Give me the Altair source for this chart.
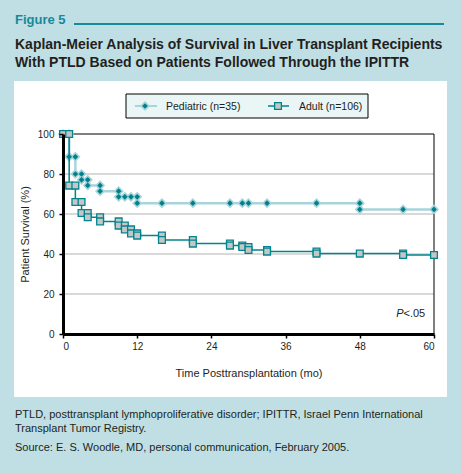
import altair as alt
import pandas as pd

# ---------------- data ----------------
months_ped = [0, 1, 1, 2, 2, 3, 3, 4, 4, 6, 6, 9, 9, 10, 11, 12, 12, 16, 21, 27, 29, 30, 33, 41, 48, 48, 55, 60]
surv_ped = [100, 100, 88.6, 88.6, 80, 80, 77.1, 77.1, 74.3, 74.3, 71.4, 71.4, 68.6, 68.6, 68.6, 68.6,
            65.4, 65.4, 65.4, 65.4, 65.4, 65.4, 65.4, 65.4, 65.4, 62.3, 62.3, 62.3]

months_adult = [0, 1, 1, 2, 2, 3, 3, 4, 4, 6, 6, 9, 9, 10, 10, 11, 11, 12, 12, 16, 16, 21, 21, 27, 27,
                29, 29, 30, 30, 33, 33, 41, 41, 48, 55, 55, 60]
surv_adult = [100, 100, 74.2, 74.2, 66, 66, 60.5, 60.5, 58.4, 58.4, 56.3, 56.3, 54.2, 54.2, 52.3, 52.3,
              50.3, 50.3, 49.2, 49.2, 47, 47, 45.2, 45.2, 44.2, 44.2, 43.5, 43.5, 42, 42, 41.2, 41.2,
              40.2, 40.2, 40.2, 39.5, 39.5]

x_ticks = [0, 12, 24, 36, 48, 60]
y_ticks = [0, 20, 40, 60, 80, 100]
grid_vals = [20, 40, 60, 80]

label_ped = "Pediatric (n=35)"
label_adult = "Adult (n=106)"
fig_label = "Figure 5"
title_lines = ["Kaplan-Meier Analysis of Survival in Liver Transplant Recipients",
               "With PTLD Based on Patients Followed Through the IPITTR"]
foot_lines = ["PTLD, posttransplant lymphoproliferative disorder; IPITTR, Israel Penn International",
              "Transplant Tumor Registry.",
              "Source: E. S. Woodle, MD, personal communication, February 2005."]

# ---------------- style ----------------
BG = "#bfdfe4"
TEAL = "#00858f"
TEAL_DARK = "#00808a"
LIGHT = "#a8d5dc"
GRAY_FILL = "#c6c6c6"
GRID = "#b3b3b3"
INK = "#231f20"
FONT = "Liberation Sans, Arial, Helvetica, sans-serif"
NARROW = "Liberation Sans Narrow, Arial Narrow, Liberation Sans, sans-serif"

W, H = 371, 200

ped = pd.DataFrame({"month": months_ped, "surv": surv_ped, "i": range(len(months_ped))})
adult = pd.DataFrame({"month": months_adult, "surv": surv_adult, "i": range(len(months_adult))})

xs = alt.Scale(domain=[0, 60], nice=False, zero=False)
ys = alt.Scale(domain=[0, 100], nice=False)

x_axis = alt.Axis(values=x_ticks, title="Time Posttransplantation (mo)", grid=False,
                  domainColor="black", domainWidth=3, tickColor="black", tickWidth=1.5, tickSize=4,
                  labelFont=NARROW, labelFontSize=10, labelColor=INK, labelPadding=3,
                  titleFont=FONT, titleFontSize=11, titleFontWeight="normal", titleColor=INK,
                  titlePadding=16, zindex=1)
y_axis = alt.Axis(values=y_ticks, title="Patient Survival (%)", grid=False,
                  domainColor="black", domainWidth=3, tickColor="black", tickWidth=1.5, tickSize=4,
                  labelFont=NARROW, labelFontSize=10, labelColor=INK, labelPadding=5,
                  titleFont=FONT, titleFontSize=11, titleFontWeight="normal", titleColor=INK,
                  titlePadding=7, zindex=1)


def X(f):
    return alt.X(f, scale=xs, axis=x_axis)


def Y(f):
    return alt.Y(f, scale=ys, axis=y_axis)


def deco():
    return alt.Chart(pd.DataFrame({"d": [0]}))


def text(t, x, y, size, font=FONT, weight="normal", color=INK, align="left", style="normal"):
    return deco().mark_text(text=t, align=align, baseline="alphabetic", font=font, fontSize=size,
                            fontWeight=weight, color=color, fontStyle=style).encode(
        x=alt.value(x), y=alt.value(y))


panel = deco().mark_rect(fill="white").encode(
    x=alt.value(-49), x2=alt.value(384), y=alt.value(-53), y2=alt.value(263))

ped_line = alt.Chart(ped).mark_line(color=LIGHT, strokeWidth=2.5).encode(
    x=X("month:Q"), y=Y("surv:Q"), order="i:Q")
grid = alt.Chart(pd.DataFrame({"g": grid_vals})).mark_rule(color=GRID, strokeWidth=1).encode(y=Y("g:Q"))
top_rule = alt.Chart(pd.DataFrame({"g": [100]})).mark_rule(color="black", strokeWidth=1).encode(y=Y("g:Q"))
right_rule = alt.Chart(pd.DataFrame({"g": [60]})).mark_rule(color="black", strokeWidth=1).encode(x=X("g:Q"))

ped_halo = alt.Chart(ped).mark_point(shape="diamond", filled=True, size=105, color=LIGHT, opacity=1).encode(
    x=X("month:Q"), y=Y("surv:Q"))
ped_core = alt.Chart(ped).mark_point(shape="diamond", filled=True, size=32, color=TEAL_DARK, opacity=1).encode(
    x=X("month:Q"), y=Y("surv:Q"))

adult_line = alt.Chart(adult).mark_line(color=TEAL, strokeWidth=1.5).encode(
    x=X("month:Q"), y=Y("surv:Q"), order="i:Q")
adult_pts = alt.Chart(adult).mark_point(shape="square", filled=True, size=46, fill=GRAY_FILL,
                                        stroke=TEAL, strokeWidth=1.3, opacity=1).encode(
    x=X("month:Q"), y=Y("surv:Q"))

# legend box
leg_box = deco().mark_rect(fill="#eaf5f6", stroke="black", strokeWidth=1).encode(
    x=alt.value(63), x2=alt.value(305), y=alt.value(-40), y2=alt.value(-16))
leg_ped_line = deco().mark_rule(color=LIGHT, strokeWidth=2).encode(
    x=alt.value(72), x2=alt.value(94), y=alt.value(-28))
leg_ped_halo = deco().mark_point(shape="diamond", filled=True, size=105, color=LIGHT, opacity=1).encode(
    x=alt.value(82), y=alt.value(-28))
leg_ped_core = deco().mark_point(shape="diamond", filled=True, size=32, color=TEAL_DARK, opacity=1).encode(
    x=alt.value(82), y=alt.value(-28))
leg_ped_text = text(label_ped, 103, -24.5, 10.5, font=NARROW)
leg_ad_line = deco().mark_rule(color=TEAL, strokeWidth=1.5).encode(
    x=alt.value(205), x2=alt.value(226), y=alt.value(-28))
leg_ad_pt = deco().mark_point(shape="square", filled=True, size=46, fill=GRAY_FILL, stroke=TEAL,
                              strokeWidth=1.3, opacity=1).encode(x=alt.value(215), y=alt.value(-28))
leg_ad_text = text(label_adult, 236, -24.5, 10.5, font=NARROW)

# headings
fig_txt = text(fig_label, -48, -110.5, 13, weight="bold", color="#16899a")
fig_rule = deco().mark_rule(color="#16899a", strokeWidth=2).encode(
    x=alt.value(11), x2=alt.value(381), y=alt.value(-110))
t1 = text(title_lines[0], -48, -85, 14, weight="bold")
t2 = text(title_lines[1], -48, -67.5, 14, weight="bold")

p_italic = text("P", 340.5, 182.5, 11, align="right", style="italic")
p_rest = text("<.05", 340.5, 182.5, 11)

f1 = text(foot_lines[0], -48, 284.3, 11)
f2 = text(foot_lines[1], -48, 298.3, 11)
f3 = text(foot_lines[2], -48, 316.5, 11)

chart = alt.layer(
    panel, ped_line, grid, top_rule, right_rule,
    ped_halo, ped_core, adult_line, adult_pts,
    leg_box, leg_ped_line, leg_ped_halo, leg_ped_core, leg_ped_text,
    leg_ad_line, leg_ad_pt, leg_ad_text,
    fig_txt, fig_rule, t1, t2, p_italic, p_rest, f1, f2, f3,
).properties(
    width=W, height=H,
    padding={"left": 63, "top": 134, "right": 27, "bottom": 140},
    autosize=alt.AutoSizeParams(type="none"),
    background=BG,
).configure_view(stroke=None)

chart.save("out.html", embed_options={"renderer": "svg", "actions": False})
